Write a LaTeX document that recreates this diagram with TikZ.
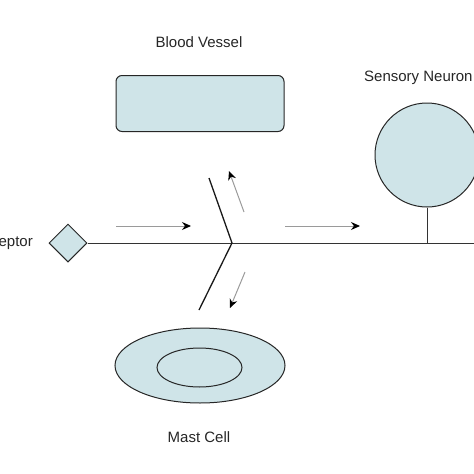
\documentclass[tikz,border=0pt]{standalone}
\usepackage{fontspec}
\setmainfont{Liberation Sans}
\usetikzlibrary{arrows.meta,shapes.geometric}
\definecolor{cellfill}{HTML}{CFE4E8}
\definecolor{arrowgray}{HTML}{9A9A9A}
\begin{document}
\begin{tikzpicture}[x=1pt,y=-1pt,
  lbl/.style={font=\fontsize{15}{17}\selectfont, text=black!85, inner sep=0pt},
  cellshape/.style={draw=black!85, fill=cellfill, line width=1pt},
  flow/.style={draw=arrowgray, line width=1pt, -{Stealth[color=black, length=9pt, width=8pt, inset=3pt]}},
  wire/.style={draw=black!80, line width=1pt},
  vline/.style={draw=black!90, line width=1.3pt}]
\useasboundingbox (0,0) rectangle (474,474);
% labels
\node[lbl] (bvlabel) at (199,42) {Blood Vessel};
\node[lbl, anchor=west] (snlabel) at (364,78) {Sensory Neuron};
\node[lbl, anchor=east] (reclabel) at (33,243) {Receptor};
\node[lbl] (mclabel) at (199,437) {Mast Cell};
% blood vessel
\node[cellshape, rounded corners=6pt, minimum width=168pt, minimum height=56pt] (vessel) at (200,103.5) {};
% sensory neuron
\node[cellshape, circle, minimum size=104pt, inner sep=0pt] (neuron) at (427,155) {};
% receptor
\node[cellshape, diamond, minimum width=38pt, minimum height=38pt, inner sep=0pt] (receptor) at (68,243) {};
% mast cell
\node[cellshape, ellipse, minimum width=170pt, minimum height=75pt, inner sep=0pt] (mast) at (200,365.5) {};
\node[cellshape, ellipse, minimum width=85pt, minimum height=39pt, inner sep=0pt] (nucleus) at (199.5,367.5) {};
% axon line
\coordinate (lineend) at (474,243);
\coordinate (junction) at (427,243);
\coordinate (vtip) at (232,243);
\draw[wire] (receptor.east) -- (lineend);
\draw[wire] (neuron.south) -- (junction);
% V
\coordinate (vtop) at (209,178);
\coordinate (vbot) at (199,310);
\draw[vline] (vtop) -- (vtip) -- (vbot);
% arrows
\coordinate (a1s) at (116,226); \coordinate (a1e) at (191,226);
\coordinate (a2s) at (285,226); \coordinate (a2e) at (360,226);
\coordinate (a3s) at (244,212); \coordinate (a3e) at (229,171);
\coordinate (a4s) at (245,272); \coordinate (a4e) at (230,308);
\draw[flow] (a1s) -- (a1e);
\draw[flow] (a2s) -- (a2e);
\draw[flow] (a3s) -- (a3e);
\draw[flow] (a4s) -- (a4e);
\end{tikzpicture}
\end{document}
